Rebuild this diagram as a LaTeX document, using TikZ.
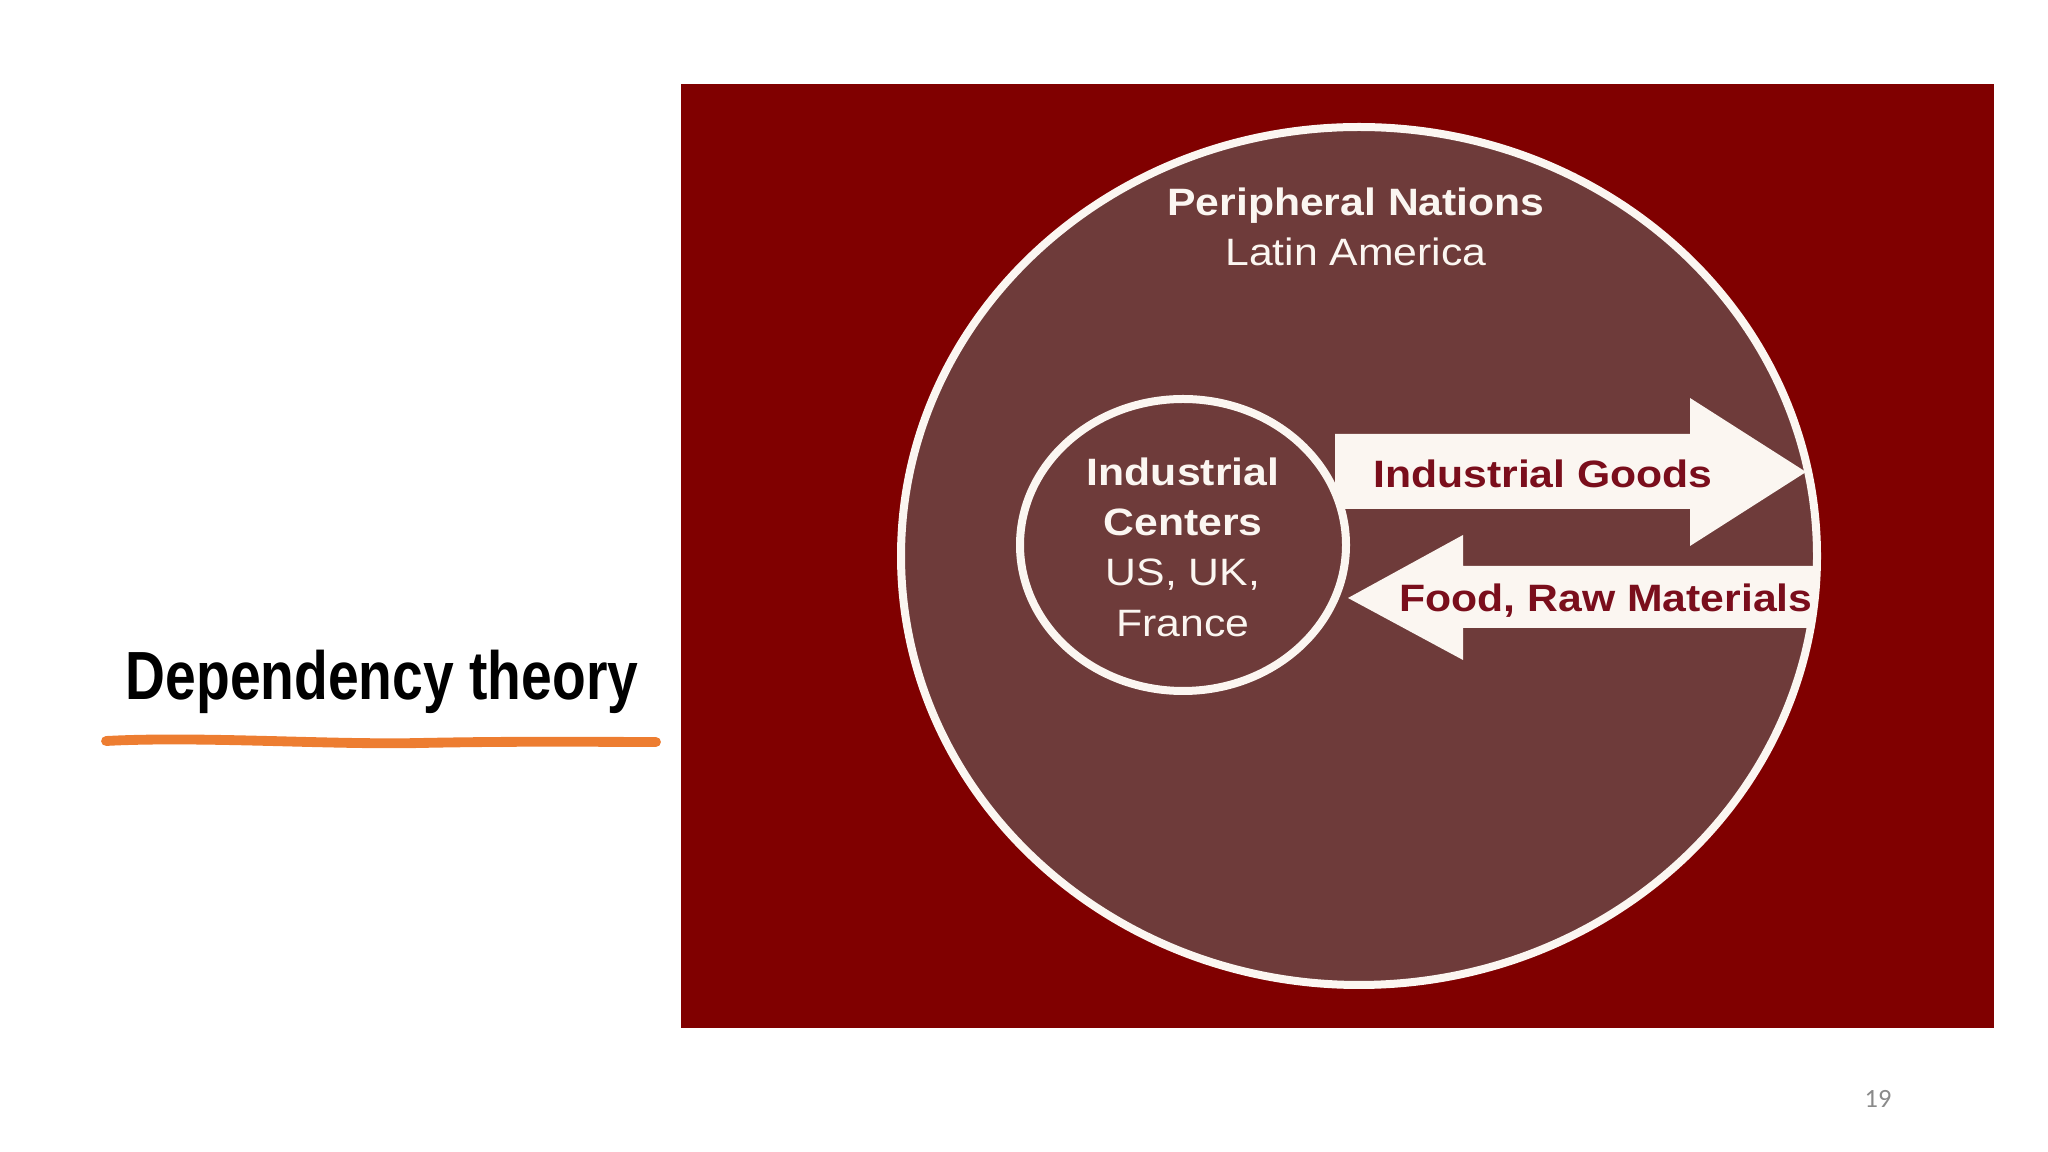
\documentclass[tikz,border=0pt]{standalone}
\usepackage{fontspec}
\setmainfont{Liberation Sans}
\newfontfamily\diagfont{Liberation Sans}[FakeStretch=1.12]
\newfontfamily\titlefont{Liberation Sans}[FakeStretch=0.81]
\newfontfamily\numfont{Carlito}

\definecolor{slidered}{HTML}{800000}
\definecolor{ringfill}{HTML}{6E3B3A}
\definecolor{ringline}{HTML}{FBF6F1}
\definecolor{goodstext}{HTML}{7A0E1C}
\definecolor{markorange}{HTML}{ED7D31}
\definecolor{pagegray}{HTML}{8A8A8A}

\tikzset{
	ringlbl/.style={text=ringline, align=center, inner sep=0pt, font=\diagfont\fontsize{10.85}{14.3}\selectfont},
	arrowlbl/.style={text=goodstext, inner sep=0pt, anchor=base, font=\diagfont\bfseries\fontsize{10.85}{14.3}\selectfont},
	blockarrow/.style={fill=ringline},
	ring/.style={fill=ringfill, draw=ringline, line width=0.8mm},
}

\begin{document}
\begin{tikzpicture}[x=0.1mm, y=-0.1mm]
				\useasboundingbox (0, 0) rectangle (2048, 1152);
				% Slide title and mark:
				\node[anchor=base, inner sep=0pt, font=\titlefont\bfseries\fontsize{19.4}{23}\selectfont](T) at (382, 700){Dependency theory};
				\draw[markorange, line width=2.8pt, line cap=round] (106, 741) .. controls (200, 736) and (330, 745) .. (420, 743) .. controls (520, 741) and (600, 742) .. (656, 742);
				% Picture:
				\fill[slidered] (681, 84) rectangle (1994, 1028);
				\fill[ringfill] (1359, 556) ellipse [x radius=4.58cm, y radius=4.29cm];
				\begin{scope}
					\clip (1359, 556) ellipse [x radius=4.58cm, y radius=4.29cm];
					\fill[blockarrow] (1335, 434) -- (1690, 434) -- (1690, 398) -- (1806, 472) -- (1690, 546) -- (1690, 509) -- (1335, 509) -- cycle;
					\fill[blockarrow] (1900, 566) -- (1463, 566) -- (1463, 535) -- (1348, 598) -- (1463, 660) -- (1463, 628) -- (1900, 628) -- cycle;
				\end{scope}
				\draw[ring, fill=none] (1359, 556) ellipse [x radius=4.58cm, y radius=4.29cm];
				\draw[ring] (1183, 545) ellipse [x radius=1.63cm, y radius=1.46cm];
				% Labels:
				\node[ringlbl](P) at (1356, 227){{\bfseries Peripheral Nations}\\Latin America};
				\node[ringlbl](C) at (1183, 547){{\bfseries Industrial}\\{\bfseries Centers}\\US, UK,\\France};
				\node[arrowlbl](G) at (1543, 488){Industrial Goods};
				\node[arrowlbl](F) at (1606, 612){Food, Raw Materials};
				\node[anchor=base, inner sep=0pt, text=pagegray, font=\numfont\fontsize{7.5}{9}\selectfont](N) at (1878, 1107){19};
			\end{tikzpicture}
\end{document}
